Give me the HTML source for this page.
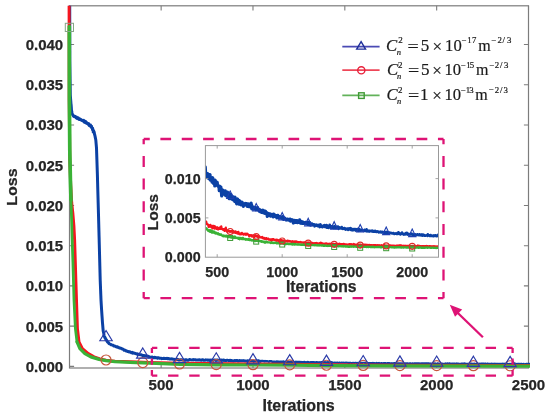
<!DOCTYPE html>
<html><head><meta charset="utf-8"><title>Loss vs Iterations</title>
<style>html,body{margin:0;padding:0;background:#fff;}body{width:550px;height:419px;overflow:hidden;}svg{display:block;filter:blur(0.3px);}</style>
</head><body>
<svg width="550" height="419" viewBox="0 0 550 419"><defs><clipPath id="cm"><rect x="66.5" y="5.8" width="463.5" height="362.2"/></clipPath><clipPath id="ci"><rect x="205.4" y="145.6" width="233.1" height="111.6"/></clipPath></defs>
<rect x="69.5" y="5.8" width="459.0" height="362.2" fill="none" stroke="#7c7c7c" stroke-width="1.2"/>
<path d="M161.14,368.0v-4.6M161.14,5.8v4.6M252.98,368.0v-4.6M252.98,5.8v4.6M344.82,368.0v-4.6M344.82,5.8v4.6M436.66,368.0v-4.6M436.66,5.8v4.6M528.50,368.0v-4.6M528.50,5.8v4.6M69.5,366.40h4.6M528.5,366.40h-4.6M69.5,326.16h4.6M528.5,326.16h-4.6M69.5,285.92h4.6M528.5,285.92h-4.6M69.5,245.68h4.6M528.5,245.68h-4.6M69.5,205.44h4.6M528.5,205.44h-4.6M69.5,165.20h4.6M528.5,165.20h-4.6M69.5,124.96h4.6M528.5,124.96h-4.6M69.5,84.72h4.6M528.5,84.72h-4.6M69.5,44.48h4.6M528.5,44.48h-4.6" stroke="#7c7c7c" stroke-width="1.1" fill="none"/>
<g clip-path="url(#cm)">
<polyline points="69.70,-5.00 69.70,-4.29 69.70,-3.59 69.70,-2.88 69.70,-2.17 69.71,-1.47 69.71,-0.76 69.71,-0.05 69.71,0.65 69.71,1.36 69.71,2.07 69.71,2.77 69.71,3.48 69.71,4.18 69.72,4.89 69.72,5.60 69.72,6.30 69.72,7.01 69.72,7.72 69.72,8.42 69.72,9.13 69.72,9.84 69.72,10.54 69.72,11.25 69.73,11.96 69.73,12.66 69.73,13.37 69.73,14.08 69.73,14.78 69.73,15.49 69.73,16.20 69.73,16.90 69.73,17.61 69.74,18.32 69.74,19.02 69.74,19.73 69.74,20.43 69.74,21.14 69.74,21.85 69.74,22.55 69.74,23.26 69.74,23.97 69.75,24.67 69.75,25.38 69.75,26.09 69.75,26.79 69.75,27.50 69.75,28.21 69.75,28.91 69.75,29.62 69.75,30.33 69.76,31.03 69.76,31.74 69.76,32.45 69.76,33.15 69.76,33.86 69.76,34.57 69.76,35.27 69.76,35.98 69.76,36.68 69.77,37.39 69.77,38.10 69.77,38.80 69.77,39.51 69.77,40.22 69.77,40.92 69.77,41.63 69.77,42.34 69.77,43.04 69.78,43.75 69.78,44.46 69.78,45.16 69.78,45.87 69.78,46.58 69.78,47.28 69.78,47.99 69.78,48.70 69.78,49.40 69.78,50.11 69.79,50.82 69.79,51.52 69.79,52.23 69.79,52.93 69.79,53.64 69.79,54.35 69.79,55.05 69.79,55.76 69.79,56.47 69.80,57.17 69.80,57.88 69.80,58.59 69.80,59.29 69.80,60.00 69.81,60.70 69.82,61.40 69.83,62.10 69.84,62.80 69.85,63.50 69.86,64.20 69.87,64.90 69.88,65.60 69.89,66.30 69.90,67.00 69.91,67.70 69.92,68.40 69.93,69.10 69.94,69.80 69.95,70.50 69.96,71.20 69.97,71.90 69.98,72.60 69.99,73.30 70.00,74.00 70.01,74.70 70.02,75.40 70.03,76.10 70.04,76.80 70.05,77.50 70.06,78.20 70.07,78.90 70.08,79.60 70.09,80.30 70.10,81.00 70.11,81.70 70.12,82.40 70.13,83.10 70.14,83.80 70.15,84.50 70.16,85.20 70.17,85.90 70.18,86.60 70.19,87.30 70.20,88.00 70.21,88.70 70.22,89.40 70.23,90.10 70.24,90.80 70.25,91.50 70.26,92.20 70.27,92.90 70.28,93.60 70.29,94.30 70.30,95.00 70.36,95.75 70.42,96.50 70.47,97.25 70.53,98.00 70.59,98.75 70.65,99.50 70.71,100.25 70.77,101.00 70.83,101.75 70.88,102.50 70.94,103.25 71.00,104.00 71.05,104.75 71.10,105.50 71.15,106.25 71.20,107.00 71.25,107.75 71.30,108.50 71.35,109.25 71.40,110.00 71.56,110.70 71.72,111.40 71.88,112.10 71.72,112.87 71.74,113.82 72.43,114.42 72.96,115.13 73.48,116.05 74.12,116.64 75.26,116.42 75.74,117.27 76.34,118.00 77.04,118.32 78.01,118.12 78.45,118.94 79.08,119.39 79.96,119.39 80.59,119.77 81.40,119.78 81.95,120.35 82.60,120.70 83.59,120.35 83.90,121.37 84.36,122.20 85.14,122.46 85.94,122.68 86.88,122.66 87.29,123.45 88.05,123.81 88.80,124.19 89.07,125.14 90.47,124.95 90.22,126.18 91.53,126.26 91.39,127.41 92.02,127.99 92.71,128.58 92.50,129.62 93.13,130.25 93.35,131.05 93.16,131.85 94.26,132.23 94.15,133.00 94.37,133.67 94.58,134.33 94.80,135.00 94.94,135.71 95.09,136.43 95.23,137.14 95.37,137.86 95.51,138.57 95.66,139.29 95.80,140.00 95.86,140.73 95.93,141.45 95.99,142.18 96.05,142.91 96.12,143.64 96.18,144.36 96.25,145.09 96.31,145.82 96.37,146.55 96.44,147.27 96.50,148.00 96.52,148.71 96.55,149.41 96.57,150.12 96.59,150.82 96.62,151.53 96.64,152.24 96.66,152.94 96.69,153.65 96.71,154.35 96.74,155.06 96.76,155.76 96.78,156.47 96.81,157.18 96.83,157.88 96.85,158.59 96.88,159.29 96.90,160.00 96.92,160.71 96.95,161.43 96.97,162.14 97.00,162.86 97.02,163.57 97.04,164.29 97.07,165.00 97.09,165.71 97.11,166.43 97.14,167.14 97.16,167.86 97.19,168.57 97.21,169.29 97.23,170.00 97.26,170.71 97.28,171.43 97.30,172.14 97.33,172.86 97.35,173.57 97.38,174.29 97.40,175.00 97.42,175.71 97.44,176.43 97.46,177.14 97.48,177.86 97.50,178.57 97.51,179.29 97.53,180.00 97.55,180.71 97.57,181.43 97.59,182.14 97.61,182.86 97.63,183.57 97.65,184.29 97.67,185.00 97.69,185.71 97.70,186.43 97.72,187.14 97.74,187.86 97.76,188.57 97.78,189.29 97.80,190.00 97.82,190.71 97.84,191.43 97.86,192.14 97.88,192.86 97.90,193.57 97.92,194.29 97.94,195.00 97.96,195.71 97.98,196.43 98.00,197.14 98.02,197.86 98.04,198.57 98.06,199.29 98.08,200.00 98.10,200.71 98.12,201.43 98.14,202.14 98.16,202.86 98.18,203.57 98.20,204.29 98.22,205.00 98.24,205.71 98.26,206.43 98.28,207.14 98.30,207.86 98.32,208.57 98.34,209.29 98.36,210.00 98.38,210.71 98.40,211.43 98.42,212.14 98.44,212.86 98.46,213.57 98.48,214.29 98.50,215.00 98.52,215.71 98.54,216.43 98.56,217.14 98.58,217.86 98.60,218.57 98.61,219.29 98.63,220.00 98.65,220.71 98.67,221.43 98.69,222.14 98.71,222.86 98.73,223.57 98.75,224.29 98.77,225.00 98.79,225.71 98.80,226.43 98.82,227.14 98.84,227.86 98.86,228.57 98.88,229.29 98.90,230.00 98.92,230.71 98.94,231.43 98.96,232.14 98.98,232.86 99.00,233.57 99.01,234.29 99.03,235.00 99.05,235.71 99.07,236.43 99.09,237.14 99.11,237.86 99.13,238.57 99.15,239.29 99.17,240.00 99.19,240.71 99.20,241.43 99.22,242.14 99.24,242.86 99.26,243.57 99.28,244.29 99.30,245.00 99.32,245.70 99.34,246.40 99.35,247.10 99.37,247.80 99.39,248.50 99.41,249.20 99.43,249.90 99.44,250.60 99.46,251.30 99.48,252.00 99.50,252.70 99.52,253.40 99.53,254.10 99.55,254.80 99.57,255.50 99.59,256.20 99.61,256.90 99.62,257.60 99.64,258.30 99.66,259.00 99.68,259.70 99.70,260.40 99.71,261.10 99.73,261.80 99.75,262.50 99.77,263.20 99.79,263.90 99.80,264.60 99.82,265.30 99.84,266.00 99.86,266.70 99.88,267.40 99.89,268.10 99.91,268.80 99.93,269.50 99.95,270.20 99.97,270.90 99.98,271.60 100.00,272.30 100.02,273.00 100.04,273.70 100.06,274.40 100.07,275.10 100.09,275.80 100.11,276.50 100.13,277.20 100.15,277.90 100.16,278.60 100.18,279.30 100.20,280.00 100.23,280.71 100.26,281.43 100.29,282.14 100.31,282.86 100.34,283.57 100.37,284.29 100.40,285.00 100.43,285.71 100.46,286.43 100.49,287.14 100.51,287.86 100.54,288.57 100.57,289.29 100.60,290.00 100.63,290.71 100.66,291.43 100.69,292.14 100.71,292.86 100.74,293.57 100.77,294.29 100.80,295.00 100.83,295.71 100.86,296.43 100.89,297.14 100.91,297.86 100.94,298.57 100.97,299.29 101.00,300.00 101.04,300.71 101.09,301.43 101.13,302.14 101.17,302.86 101.21,303.57 101.26,304.29 101.30,305.00 101.34,305.71 101.39,306.43 101.43,307.14 101.47,307.86 101.51,308.57 101.56,309.29 101.60,310.00 101.65,310.72 101.70,311.44 101.75,312.17 101.80,312.89 101.85,313.61 101.90,314.33 101.95,315.06 102.00,315.78 102.05,316.50 102.10,317.22 102.15,317.94 102.20,318.67 102.25,319.39 102.30,320.11 102.35,320.83 102.40,321.56 102.45,322.28 102.50,323.00 102.56,323.73 102.63,324.45 102.69,325.18 102.75,325.91 102.82,326.64 102.88,327.36 102.95,328.09 103.01,328.82 103.07,329.55 103.14,330.27 103.20,331.00 103.37,331.76 103.54,332.51 103.71,333.27 103.89,334.03 103.92,334.82 104.05,335.58 104.23,336.37 104.78,337.01 104.90,337.84 105.64,338.40 105.78,339.22 106.02,339.99 106.74,340.34 107.04,341.05 107.37,341.74 107.85,342.30 108.51,342.65 108.87,343.51 109.63,343.80 110.41,344.06 110.96,344.70 111.65,344.90 112.33,345.12 113.03,345.28 113.54,345.93 114.30,345.94 114.95,346.23 115.74,346.57 116.48,347.01 117.52,346.69 118.17,347.37 118.79,347.75 119.59,347.75 120.20,348.14 120.96,348.21 121.57,348.61 122.18,349.02 122.90,349.14 123.58,349.52 124.14,350.22 124.95,350.27 125.68,350.53 126.29,351.11 127.08,351.08 127.69,351.60 128.47,351.60 129.13,351.96 130.00,351.71 130.58,352.29 131.24,352.63 132.08,352.39 132.66,353.18 133.52,352.84 134.20,353.23 134.99,353.21 135.67,353.61 136.38,353.88 137.24,353.69 137.85,354.48 138.70,354.31 139.45,354.57 140.20,354.80 141.00,354.83 141.77,354.97 142.48,355.41 143.24,355.51 144.03,355.49 144.72,355.96 145.53,355.84 146.33,355.82 147.04,356.15 147.82,356.18 148.55,356.43 149.21,357.00 150.01,356.92 150.72,357.36 151.48,357.34 152.28,356.94 152.96,357.67 153.72,357.73 154.53,357.20 155.22,357.86 156.01,357.61 156.75,357.72 157.46,358.15 158.27,357.72 159.00,358.00 159.72,358.36 160.48,358.30 161.25,358.20 161.98,358.63 162.70,358.57 163.42,358.48 164.16,358.19 164.85,358.60 165.57,358.54 166.30,358.41 167.02,358.36 167.71,358.75 168.44,358.52 169.14,358.79 169.84,359.00 170.56,358.91 171.29,358.83 171.98,359.10 172.71,359.04 173.41,359.36 174.16,359.26 174.86,359.66 175.59,359.70 176.33,359.61 177.10,359.34 177.84,359.32 178.51,359.93 179.25,359.93 180.00,359.89 180.72,359.71 181.43,359.65 182.14,359.95 182.86,359.87 183.57,359.90 184.28,359.94 185.00,360.03 185.72,359.64 186.43,359.69 187.14,360.21 187.85,360.17 188.57,360.15 189.29,359.57 190.00,359.59 190.72,359.75 191.43,359.86 192.14,360.01 192.86,359.65 193.57,359.96 194.29,359.64 195.00,359.66 195.71,360.08 196.43,360.00 197.14,360.06 197.86,359.89 198.57,359.97 199.29,359.79 200.00,359.89 200.73,360.18 201.45,360.26 202.19,359.73 202.91,359.77 203.63,360.26 204.36,360.14 205.09,360.25 205.82,359.87 206.55,360.03 207.27,359.92 208.00,360.32 208.73,360.02 209.45,360.23 210.18,360.47 210.91,360.01 211.64,360.18 212.36,360.33 213.09,360.46 213.82,360.12 214.55,360.09 215.28,359.91 215.99,360.46 216.72,359.92 217.43,359.94 218.13,360.29 218.84,360.25 219.55,360.41 220.26,360.16 220.96,360.51 221.68,360.03 222.39,360.14 223.09,360.47 223.81,360.08 224.52,360.26 225.22,360.57 225.93,360.56 226.65,360.29 227.36,360.21 228.07,360.37 228.77,360.65 229.49,360.41 230.20,360.25 230.90,360.69 231.61,360.60 232.32,360.86 233.03,360.89 233.74,360.89 234.45,360.58 235.16,360.85 235.87,360.51 236.58,360.54 237.29,360.61 237.99,361.00 238.70,360.99 239.42,360.56 240.13,360.65 240.84,360.67 241.55,360.68 242.26,360.72 242.97,360.73 243.68,360.62 244.39,360.89 245.09,361.07 245.81,360.91 246.51,361.13 247.22,360.95 247.94,360.70 248.64,361.12 249.35,361.22 250.07,360.82 250.78,360.66 251.48,361.02 252.19,361.05 252.90,361.09 253.61,361.38 254.32,361.18 255.03,361.30 255.75,360.80 256.45,361.15 257.16,361.34 257.88,360.86 258.59,360.87 259.29,361.35 260.00,361.20" fill="none" stroke="#0B41A5" stroke-width="3.0" stroke-linejoin="round" stroke-linecap="round" />
<polyline points="258.00,361.01 259.00,361.29 260.00,361.31 260.71,361.43 261.43,361.05 262.15,361.10 262.86,361.06 263.58,361.13 264.28,361.45 265.01,361.11 265.71,361.37 266.43,361.20 267.15,361.27 267.86,361.37 268.57,361.63 269.28,361.51 270.01,361.18 270.72,361.35 271.43,361.29 272.14,361.75 272.85,361.73 273.57,361.75 274.28,361.78 275.00,361.75 275.71,361.89 276.42,361.81 277.15,361.51 277.85,361.89 278.57,361.69 279.28,361.87 280.00,361.77 280.72,361.71 281.43,361.69 282.14,361.75 282.86,361.70 283.58,361.60 284.28,362.04 285.00,362.05 285.71,362.18 286.43,362.02 287.14,361.96 287.85,362.09 288.58,361.74 289.28,362.09 290.00,361.97 290.70,361.82 291.41,361.84 292.11,362.05 292.81,361.89 293.51,362.03 294.21,362.13 294.91,362.01 295.62,361.86 296.32,362.09 297.02,361.95 297.72,361.96 298.42,361.94 299.12,362.06 299.83,361.89 300.52,362.25 301.22,362.44 301.93,362.11 302.63,362.32 303.33,362.46 304.04,361.94 304.74,362.01 305.44,362.42 306.14,362.44 306.84,362.34 307.55,362.06 308.25,362.22 308.94,362.51 309.65,362.53 310.35,362.49 311.06,362.14 311.75,362.54 312.46,362.26 313.16,362.48 313.86,362.14 314.56,362.65 315.26,362.44 315.96,362.52 316.67,362.23 317.37,362.48 318.07,362.47 318.77,362.49 319.47,362.36 320.17,362.59 320.88,362.37 321.58,362.35 322.28,362.28 322.98,362.61 323.69,362.27 324.39,362.35 325.09,362.27 325.79,362.62 326.49,362.58 327.19,362.58 327.90,362.29 328.60,362.54 329.30,362.50 330.00,362.36 331.00,362.31 332.00,362.62" fill="none" stroke="#0B41A5" stroke-width="2.5" stroke-linejoin="round" stroke-linecap="round" />
<polyline points="328.00,362.37 329.00,362.69 330.00,362.68 330.70,362.83 331.40,362.50 332.10,362.50 332.80,362.75 333.50,362.71 334.20,362.54 334.90,362.74 335.60,362.60 336.30,362.80 337.00,362.48 337.70,362.54 338.40,362.88 339.10,362.62 339.80,362.58 340.50,362.86 341.20,362.78 341.90,362.54 342.60,362.75 343.30,362.81 344.00,362.57 344.70,362.82 345.40,362.57 346.10,362.68 346.80,362.56 347.50,362.63 348.20,363.02 348.90,362.74 349.60,363.04 350.30,362.77 351.00,362.86 351.70,363.00 352.40,362.92 353.10,362.64 353.80,362.88 354.50,362.91 355.20,362.69 355.90,362.66 356.60,363.05 357.30,362.88 358.00,362.73 358.70,362.86 359.40,362.75 360.10,363.05 360.80,362.91 361.50,362.72 362.20,363.08 362.90,362.72 363.60,362.83 364.30,362.71 365.00,363.07 365.70,362.76 366.40,362.98 367.10,362.77 367.80,362.97 368.50,363.08 369.20,363.01 369.90,362.98 370.60,363.00 371.30,362.98 372.00,363.07 372.70,362.82 373.40,363.02 374.10,362.91 374.80,363.23 375.50,363.27 376.20,362.85 376.90,362.89 377.60,363.18 378.30,363.12 379.00,362.85 379.70,363.20 380.40,363.33 381.10,363.07 381.80,363.04 382.50,363.16 383.20,363.35 383.90,363.02 384.60,363.05 385.30,363.00 386.00,363.22 386.70,363.15 387.40,363.05 388.10,363.12 388.80,362.96 389.50,363.10 390.20,363.44 390.90,363.25 391.60,363.11 392.30,363.44 393.00,363.16 393.70,363.11 394.40,363.01 395.10,363.07 395.80,363.11 396.50,363.13 397.20,363.46 397.90,363.16 398.60,363.16 399.30,363.34 400.00,363.51 400.70,363.20 401.40,363.44 402.10,363.24 402.80,363.34 403.50,363.36 404.20,363.54 404.90,363.45 405.60,363.33 406.30,363.50 407.00,363.26 407.70,363.28 408.40,363.57 409.10,363.36 409.80,363.48 410.50,363.25 411.20,363.56 411.90,363.41 412.60,363.23 413.30,363.57 414.00,363.34 414.70,363.28 415.40,363.25 416.10,363.17 416.80,363.22 417.50,363.47 418.20,363.20 418.90,363.26 419.60,363.36 420.30,363.41 421.00,363.33 421.70,363.54 422.40,363.27 423.10,363.33 423.80,363.36 424.50,363.22 425.20,363.27 425.90,363.23 426.60,363.53 427.30,363.24 428.00,363.50 428.70,363.28 429.40,363.50 430.10,363.51 430.80,363.36 431.50,363.65 432.20,363.52 432.90,363.47 433.60,363.22 434.30,363.40 435.00,363.33 435.70,363.44 436.40,363.67 437.10,363.64 437.80,363.24 438.50,363.56 439.20,363.69 439.90,363.49 440.60,363.27 441.30,363.66 442.00,363.44 442.70,363.72 443.40,363.67 444.10,363.65 444.80,363.71 445.50,363.28 446.20,363.64 446.90,363.40 447.60,363.32 448.30,363.45 449.00,363.55 449.70,363.27 450.40,363.49 451.10,363.66 451.80,363.52 452.50,363.54 453.20,363.43 453.90,363.77 454.60,363.41 455.30,363.63 456.00,363.61 456.70,363.29 457.40,363.79 458.10,363.42 458.80,363.80 459.50,363.77 460.20,363.76 460.90,363.74 461.60,363.51 462.30,363.54 463.00,363.49 463.70,363.79 464.40,363.34 465.10,363.40 465.80,363.81 466.50,363.74 467.20,363.69 467.90,363.82 468.60,363.61 469.30,363.76 470.00,363.57 470.70,363.80 471.41,363.39 472.12,363.58 472.82,363.65 473.53,363.76 474.24,363.58 474.94,363.72 475.65,363.86 476.35,363.59 477.06,363.49 477.77,363.40 478.47,363.82 479.18,363.63 479.88,363.59 480.59,363.66 481.30,363.47 482.00,363.52 482.71,363.53 483.41,363.54 484.12,363.85 484.82,363.55 485.53,363.47 486.23,363.86 486.94,363.71 487.65,363.45 488.35,363.78 489.06,363.79 489.76,363.77 490.47,363.84 491.18,363.67 491.88,363.57 492.59,363.84 493.29,363.78 494.00,363.82 494.71,363.57 495.41,363.66 496.12,363.83 496.82,363.68 497.53,363.79 498.24,363.73 498.94,363.87 499.65,363.67 500.35,363.75 501.06,363.92 501.77,363.66 502.47,363.60 503.18,363.83 503.88,363.59 504.59,363.95 505.29,363.66 506.00,363.98 506.71,363.80 507.41,363.61 508.12,363.80 508.82,363.89 509.53,363.79 510.23,363.87 510.94,363.74 511.65,364.04 512.35,363.65 513.06,363.96 513.77,363.58 514.47,363.83 515.18,363.61 515.88,363.65 516.59,363.88 517.29,364.04 518.00,363.74 518.71,363.79 519.41,363.84 520.12,363.90 520.82,363.78 521.53,363.78 522.23,364.04 522.94,363.89 523.65,363.79 524.35,364.03 525.06,364.12 525.76,363.84 526.47,363.64 527.18,363.79 527.88,364.09 528.59,363.73 529.29,363.75 530.00,363.90" fill="none" stroke="#0B41A5" stroke-width="2.0" stroke-linejoin="round" stroke-linecap="round" />
<polyline points="71.00,104.00 71.07,105.00 71.13,106.00 71.20,107.00 71.27,108.00 71.33,109.00 71.40,110.00 71.67,111.17 71.93,112.33 72.05,113.60 72.86,114.66 73.55,115.95 75.00,115.76 75.69,116.81 76.88,116.96 77.11,118.60 78.67,117.70 78.88,119.36 80.33,118.61 80.86,120.08 82.13,119.98 83.07,120.57 83.69,121.74 85.30,120.95 86.14,121.51 86.25,123.35 87.49,123.21 88.81,123.34 88.60,125.27 89.35,125.78 91.23,125.78 91.44,127.02 92.59,127.71 92.80,128.85 92.80,130.10 94.08,130.81 93.49,132.11 94.15,133.00 94.47,134.00 94.80,135.00" fill="none" stroke="#0B41A5" stroke-width="2.2" stroke-linejoin="round" stroke-linecap="round" />
<polyline points="69.10,-5.00 69.20,100.00 69.80,160.00 70.70,185.00 71.70,203.00 72.90,214.00 73.90,226.00 74.60,240.00 75.30,262.00 75.90,282.00 76.40,298.00 77.40,328.50 79.00,341.90 82.40,348.60 88.30,353.60 94.10,356.90 100.00,359.00 106.00,360.30 115.00,361.20 130.00,361.80 150.00,362.40 180.00,363.20 260.00,364.00 330.00,364.70 400.00,365.20 530.00,365.50" fill="none" stroke="#F5151F" stroke-width="3.0" stroke-linejoin="round" stroke-linecap="round" />
<polyline points="69.30,26.60 69.40,100.00 69.80,150.00 70.40,180.00 71.00,200.00" fill="none" stroke="#3AB236" stroke-width="3.7" stroke-linejoin="round" stroke-linecap="round" />
<polyline points="71.00,200.00 71.60,220.00 72.20,240.00 72.90,262.00 73.50,282.00 74.00,300.00 75.40,328.50 77.00,341.90" fill="none" stroke="#3AB236" stroke-width="2.8" stroke-linejoin="round" stroke-linecap="round" />
<polyline points="77.00,341.90 79.90,348.60 84.90,353.60 90.80,356.90 99.10,359.40 106.00,360.60 115.00,361.60 130.00,362.40 150.00,363.20 180.00,364.30 216.00,364.90 290.00,365.10 330.00,365.60 400.00,365.90 530.00,366.10" fill="none" stroke="#3AB236" stroke-width="3.2" stroke-linejoin="round" stroke-linecap="round" />
</g>
<circle cx="106.04" cy="360.00" r="5.0" fill="none" stroke="#c8563e" stroke-width="1.2"/>
<path d="M106.04,330.50 L112.24,340.70 L99.84,340.70 Z" fill="none" stroke="#2a3aa8" stroke-width="1.15" stroke-linejoin="miter"/>
<circle cx="142.77" cy="362.61" r="5.0" fill="none" stroke="#c8563e" stroke-width="1.2"/>
<path d="M142.77,347.96 L148.97,358.16 L136.57,358.16 Z" fill="none" stroke="#2a3aa8" stroke-width="1.15" stroke-linejoin="miter"/>
<circle cx="179.51" cy="363.98" r="5.0" fill="none" stroke="#c8563e" stroke-width="1.2"/>
<path d="M179.51,352.35 L185.71,362.55 L173.31,362.55 Z" fill="none" stroke="#2a3aa8" stroke-width="1.15" stroke-linejoin="miter"/>
<circle cx="216.24" cy="364.60" r="5.0" fill="none" stroke="#c8563e" stroke-width="1.2"/>
<path d="M216.24,352.81 L222.44,363.01 L210.04,363.01 Z" fill="none" stroke="#2a3aa8" stroke-width="1.15" stroke-linejoin="miter"/>
<circle cx="252.98" cy="364.70" r="5.0" fill="none" stroke="#c8563e" stroke-width="1.2"/>
<path d="M252.98,353.64 L259.18,363.84 L246.78,363.84 Z" fill="none" stroke="#2a3aa8" stroke-width="1.15" stroke-linejoin="miter"/>
<circle cx="289.72" cy="364.80" r="5.0" fill="none" stroke="#c8563e" stroke-width="1.2"/>
<path d="M289.72,354.59 L295.92,364.79 L283.52,364.79 Z" fill="none" stroke="#2a3aa8" stroke-width="1.15" stroke-linejoin="miter"/>
<circle cx="326.45" cy="365.26" r="5.0" fill="none" stroke="#c8563e" stroke-width="1.2"/>
<path d="M326.45,355.15 L332.65,365.35 L320.25,365.35 Z" fill="none" stroke="#2a3aa8" stroke-width="1.15" stroke-linejoin="miter"/>
<circle cx="363.19" cy="365.44" r="5.0" fill="none" stroke="#c8563e" stroke-width="1.2"/>
<path d="M363.19,355.53 L369.39,365.73 L356.99,365.73 Z" fill="none" stroke="#2a3aa8" stroke-width="1.15" stroke-linejoin="miter"/>
<circle cx="399.92" cy="365.60" r="5.0" fill="none" stroke="#c8563e" stroke-width="1.2"/>
<path d="M399.92,355.90 L406.12,366.10 L393.72,366.10 Z" fill="none" stroke="#2a3aa8" stroke-width="1.15" stroke-linejoin="miter"/>
<circle cx="436.66" cy="365.66" r="5.0" fill="none" stroke="#c8563e" stroke-width="1.2"/>
<path d="M436.66,356.06 L442.86,366.26 L430.46,366.26 Z" fill="none" stroke="#2a3aa8" stroke-width="1.15" stroke-linejoin="miter"/>
<circle cx="473.40" cy="365.71" r="5.0" fill="none" stroke="#c8563e" stroke-width="1.2"/>
<path d="M473.40,356.22 L479.60,366.42 L467.20,366.42 Z" fill="none" stroke="#2a3aa8" stroke-width="1.15" stroke-linejoin="miter"/>
<circle cx="510.13" cy="365.77" r="5.0" fill="none" stroke="#c8563e" stroke-width="1.2"/>
<path d="M510.13,356.40 L516.33,366.60 L503.93,366.60 Z" fill="none" stroke="#2a3aa8" stroke-width="1.15" stroke-linejoin="miter"/>
<rect x="65.3" y="23.3" width="8.2" height="8.2" fill="none" stroke="#86a486" stroke-width="1"/>
<g font-family="Liberation Sans, Arial, sans-serif" font-weight="bold" font-size="15" fill="#262626" stroke="#262626" stroke-width="0.25">
<text x="63.2" y="371.90" text-anchor="end">0.000</text>
<text x="63.2" y="331.66" text-anchor="end">0.005</text>
<text x="63.2" y="291.42" text-anchor="end">0.010</text>
<text x="63.2" y="251.18" text-anchor="end">0.015</text>
<text x="63.2" y="210.94" text-anchor="end">0.020</text>
<text x="63.2" y="170.70" text-anchor="end">0.025</text>
<text x="63.2" y="130.46" text-anchor="end">0.030</text>
<text x="63.2" y="90.22" text-anchor="end">0.035</text>
<text x="63.2" y="49.98" text-anchor="end">0.040</text>
<text x="161.14" y="389.7" text-anchor="middle">500</text>
<text x="252.98" y="389.7" text-anchor="middle">1000</text>
<text x="344.82" y="389.7" text-anchor="middle">1500</text>
<text x="436.66" y="389.7" text-anchor="middle">2000</text>
<text x="528.50" y="389.7" text-anchor="middle">2500</text>
</g>
<text x="298.6" y="410.7" text-anchor="middle" font-family="Liberation Sans, Arial, sans-serif" font-weight="bold" font-size="16" fill="#262626" stroke="#262626" stroke-width="0.25">Iterations</text>
<text transform="translate(17.2,187) rotate(-90) scale(1,0.95)" text-anchor="middle" font-family="Liberation Sans, Arial, sans-serif" font-weight="bold" font-size="16" fill="#262626" stroke="#262626" stroke-width="0.25">Loss</text>
<line x1="342.3" y1="46.6" x2="379.6" y2="46.6" stroke="#4a4ab4" stroke-width="1.7"/>
<path d="M361.1,41.7 L365.5,49.1 L356.70000000000005,49.1 Z" fill="none" stroke="#1f2f9a" stroke-width="1.4"/>
<text x="386.00" y="50.70" font-size="16.8" font-style="italic" font-family="Liberation Serif, Times New Roman, serif" fill="#1a1a1a" stroke="#1a1a1a" stroke-width="0.2" >C</text>
<text x="398.20" y="43.40" font-size="9" font-family="Liberation Serif, Times New Roman, serif" fill="#1a1a1a" stroke="#1a1a1a" stroke-width="0.2" >2</text>
<text x="396.70" y="54.60" font-size="8.5" font-style="italic" font-family="Liberation Serif, Times New Roman, serif" fill="#1a1a1a" stroke="#1a1a1a" stroke-width="0.2" >n</text>
<text transform="translate(407.46,51.70) scale(1.17,1)" font-size="17" font-family="Liberation Serif, Times New Roman, serif" fill="#1a1a1a" stroke="#1a1a1a" stroke-width="0.2" >=</text>
<text x="420.80" y="50.70" font-size="17" font-family="Liberation Serif, Times New Roman, serif" fill="#1a1a1a" stroke="#1a1a1a" stroke-width="0.2" >5</text>
<text x="432.40" y="51.80" font-size="17" font-family="Liberation Serif, Times New Roman, serif" fill="#1a1a1a" stroke="#1a1a1a" stroke-width="0.2" >×</text>
<text x="445.10" y="50.70" font-size="16.6" font-family="Liberation Serif, Times New Roman, serif" fill="#1a1a1a" stroke="#1a1a1a" stroke-width="0.2" >10</text>
<text x="478.20" y="50.70" font-size="16" font-family="Liberation Serif, Times New Roman, serif" fill="#1a1a1a" stroke="#1a1a1a" stroke-width="0.2" >m</text>
<text x="461.80" y="43.00" font-size="8.8" font-family="Liberation Serif, Times New Roman, serif" fill="#1a1a1a" stroke="#1a1a1a" stroke-width="0.2" >−</text>
<text x="467.20" y="42.90" font-size="8.8" font-family="Liberation Serif, Times New Roman, serif" fill="#1a1a1a" stroke="#1a1a1a" stroke-width="0.2" >1</text>
<text x="472.00" y="42.90" font-size="8.8" font-family="Liberation Serif, Times New Roman, serif" fill="#1a1a1a" stroke="#1a1a1a" stroke-width="0.2" >7</text>
<text x="491.50" y="43.20" font-size="8.8" font-family="Liberation Serif, Times New Roman, serif" fill="#1a1a1a" stroke="#1a1a1a" stroke-width="0.2" >−</text>
<text x="497.50" y="43.30" font-size="8.8" font-family="Liberation Serif, Times New Roman, serif" fill="#1a1a1a" stroke="#1a1a1a" stroke-width="0.2" >2</text>
<text x="502.40" y="43.30" font-size="8.8" font-family="Liberation Serif, Times New Roman, serif" fill="#1a1a1a" stroke="#1a1a1a" stroke-width="0.2" >/</text>
<text x="506.90" y="43.30" font-size="8.8" font-family="Liberation Serif, Times New Roman, serif" fill="#1a1a1a" stroke="#1a1a1a" stroke-width="0.2" >3</text>
<line x1="342.3" y1="70.2" x2="379.6" y2="70.2" stroke="#ee4658" stroke-width="1.7"/>
<circle cx="361.3" cy="70.3" r="3.6" fill="none" stroke="#e8203a" stroke-width="1.4"/>
<text x="387.10" y="75.30" font-size="16.8" font-style="italic" font-family="Liberation Serif, Times New Roman, serif" fill="#1a1a1a" stroke="#1a1a1a" stroke-width="0.2" >C</text>
<text x="398.10" y="68.40" font-size="9" font-family="Liberation Serif, Times New Roman, serif" fill="#1a1a1a" stroke="#1a1a1a" stroke-width="0.2" >2</text>
<text x="397.10" y="79.40" font-size="8.5" font-style="italic" font-family="Liberation Serif, Times New Roman, serif" fill="#1a1a1a" stroke="#1a1a1a" stroke-width="0.2" >n</text>
<text transform="translate(407.96,76.30) scale(1.17,1)" font-size="17" font-family="Liberation Serif, Times New Roman, serif" fill="#1a1a1a" stroke="#1a1a1a" stroke-width="0.2" >=</text>
<text x="421.00" y="75.30" font-size="17" font-family="Liberation Serif, Times New Roman, serif" fill="#1a1a1a" stroke="#1a1a1a" stroke-width="0.2" >5</text>
<text x="432.20" y="76.40" font-size="17" font-family="Liberation Serif, Times New Roman, serif" fill="#1a1a1a" stroke="#1a1a1a" stroke-width="0.2" >×</text>
<text x="444.40" y="75.30" font-size="16.6" font-family="Liberation Serif, Times New Roman, serif" fill="#1a1a1a" stroke="#1a1a1a" stroke-width="0.2" >10</text>
<text x="476.10" y="75.30" font-size="16" font-family="Liberation Serif, Times New Roman, serif" fill="#1a1a1a" stroke="#1a1a1a" stroke-width="0.2" >m</text>
<text x="461.00" y="67.60" font-size="8.8" font-family="Liberation Serif, Times New Roman, serif" fill="#1a1a1a" stroke="#1a1a1a" stroke-width="0.2" >−</text>
<text x="466.20" y="68.10" font-size="8.8" font-family="Liberation Serif, Times New Roman, serif" fill="#1a1a1a" stroke="#1a1a1a" stroke-width="0.2" >1</text>
<text x="469.70" y="68.10" font-size="8.8" font-family="Liberation Serif, Times New Roman, serif" fill="#1a1a1a" stroke="#1a1a1a" stroke-width="0.2" >5</text>
<text x="489.50" y="67.60" font-size="8.8" font-family="Liberation Serif, Times New Roman, serif" fill="#1a1a1a" stroke="#1a1a1a" stroke-width="0.2" >−</text>
<text x="494.70" y="68.10" font-size="8.8" font-family="Liberation Serif, Times New Roman, serif" fill="#1a1a1a" stroke="#1a1a1a" stroke-width="0.2" >2</text>
<text x="499.90" y="68.10" font-size="8.8" font-family="Liberation Serif, Times New Roman, serif" fill="#1a1a1a" stroke="#1a1a1a" stroke-width="0.2" >/</text>
<text x="503.90" y="68.10" font-size="8.8" font-family="Liberation Serif, Times New Roman, serif" fill="#1a1a1a" stroke="#1a1a1a" stroke-width="0.2" >3</text>
<line x1="342.3" y1="95.4" x2="379.6" y2="95.4" stroke="#62b25a" stroke-width="1.7"/>
<rect x="358.6" y="92.80000000000001" width="5.6" height="5.6" fill="none" stroke="#3f9a35" stroke-width="1.4"/>
<text x="386.60" y="99.90" font-size="16.8" font-style="italic" font-family="Liberation Serif, Times New Roman, serif" fill="#1a1a1a" stroke="#1a1a1a" stroke-width="0.2" >C</text>
<text x="398.10" y="93.10" font-size="9" font-family="Liberation Serif, Times New Roman, serif" fill="#1a1a1a" stroke="#1a1a1a" stroke-width="0.2" >2</text>
<text x="396.90" y="104.00" font-size="8.5" font-style="italic" font-family="Liberation Serif, Times New Roman, serif" fill="#1a1a1a" stroke="#1a1a1a" stroke-width="0.2" >n</text>
<text transform="translate(407.96,100.90) scale(1.17,1)" font-size="17" font-family="Liberation Serif, Times New Roman, serif" fill="#1a1a1a" stroke="#1a1a1a" stroke-width="0.2" >=</text>
<text x="420.00" y="99.90" font-size="17" font-family="Liberation Serif, Times New Roman, serif" fill="#1a1a1a" stroke="#1a1a1a" stroke-width="0.2" >1</text>
<text x="432.20" y="101.00" font-size="17" font-family="Liberation Serif, Times New Roman, serif" fill="#1a1a1a" stroke="#1a1a1a" stroke-width="0.2" >×</text>
<text x="444.40" y="99.90" font-size="16.6" font-family="Liberation Serif, Times New Roman, serif" fill="#1a1a1a" stroke="#1a1a1a" stroke-width="0.2" >10</text>
<text x="475.30" y="99.90" font-size="16" font-family="Liberation Serif, Times New Roman, serif" fill="#1a1a1a" stroke="#1a1a1a" stroke-width="0.2" >m</text>
<text x="461.00" y="92.50" font-size="8.8" font-family="Liberation Serif, Times New Roman, serif" fill="#1a1a1a" stroke="#1a1a1a" stroke-width="0.2" >−</text>
<text x="465.80" y="92.60" font-size="8.8" font-family="Liberation Serif, Times New Roman, serif" fill="#1a1a1a" stroke="#1a1a1a" stroke-width="0.2" >1</text>
<text x="469.20" y="92.60" font-size="8.8" font-family="Liberation Serif, Times New Roman, serif" fill="#1a1a1a" stroke="#1a1a1a" stroke-width="0.2" >3</text>
<text x="489.00" y="92.20" font-size="8.8" font-family="Liberation Serif, Times New Roman, serif" fill="#1a1a1a" stroke="#1a1a1a" stroke-width="0.2" >−</text>
<text x="494.70" y="92.60" font-size="8.8" font-family="Liberation Serif, Times New Roman, serif" fill="#1a1a1a" stroke="#1a1a1a" stroke-width="0.2" >2</text>
<text x="500.00" y="92.60" font-size="8.8" font-family="Liberation Serif, Times New Roman, serif" fill="#1a1a1a" stroke="#1a1a1a" stroke-width="0.2" >/</text>
<text x="503.40" y="92.60" font-size="8.8" font-family="Liberation Serif, Times New Roman, serif" fill="#1a1a1a" stroke="#1a1a1a" stroke-width="0.2" >3</text>
<path d="M143.70,139.00H149.75M160.40,139.00H171.10M181.75,139.00H192.45M203.10,139.00H213.80M224.45,139.00H235.15M245.80,139.00H256.50M267.15,139.00H277.85M288.50,139.00H299.20M309.85,139.00H320.55M331.20,139.00H341.90M352.55,139.00H363.25M373.90,139.00H384.60M395.25,139.00H405.95M416.60,139.00H427.30M437.95,139.00H443.50M143.70,298.20H149.75M160.40,298.20H171.10M181.75,298.20H192.45M203.10,298.20H213.80M224.45,298.20H235.15M245.80,298.20H256.50M267.15,298.20H277.85M288.50,298.20H299.20M309.85,298.20H320.55M331.20,298.20H341.90M352.55,298.20H363.25M373.90,298.20H384.60M395.25,298.20H405.95M416.60,298.20H427.30M437.95,298.20H443.50M143.70,139.00V144.20M143.70,155.90V166.90M143.70,178.60V189.60M143.70,201.30V212.30M143.70,224.00V235.00M143.70,246.70V257.70M143.70,269.40V280.40M143.70,292.10V298.20M443.50,139.00V144.20M443.50,155.90V166.90M443.50,178.60V189.60M443.50,201.30V212.30M443.50,224.00V235.00M443.50,246.70V257.70M443.50,269.40V280.40M443.50,292.10V298.20M151.90,347.90H157.30M168.07,347.90H178.47M189.24,347.90H199.64M210.41,347.90H220.81M231.58,347.90H241.98M252.75,347.90H263.15M273.92,347.90H284.32M295.09,347.90H305.49M316.26,347.90H326.66M337.43,347.90H347.83M358.60,347.90H369.00M379.77,347.90H390.17M400.94,347.90H411.34M422.11,347.90H432.51M443.28,347.90H453.68M464.45,347.90H474.85M485.62,347.90H496.02M506.79,347.90H512.60M151.90,375.70H157.30M168.07,375.70H178.47M189.24,375.70H199.64M210.41,375.70H220.81M231.58,375.70H241.98M252.75,375.70H263.15M273.92,375.70H284.32M295.09,375.70H305.49M316.26,375.70H326.66M337.43,375.70H347.83M358.60,375.70H369.00M379.77,375.70H390.17M400.94,375.70H411.34M422.11,375.70H432.51M443.28,375.70H453.68M464.45,375.70H474.85M485.62,375.70H496.02M506.79,375.70H512.60M151.9,347.9V353.09999999999997M151.9,358.6V364.8M151.9,370.09999999999997V375.7M512.6,347.9V353.09999999999997M512.6,358.6V364.8M512.6,370.09999999999997V375.7" stroke="#DE1375" stroke-width="2.3" fill="none" stroke-linecap="butt"/>
<line x1="482.9" y1="337.3" x2="455" y2="310.2" stroke="#DE1375" stroke-width="2.3"/>
<path d="M449.8,304.8 L462.2,309.6 L455.0,316.8 Z" fill="#DE1375"/>
<rect x="205.4" y="145.6" width="233.1" height="111.6" fill="#fff"/>
<g clip-path="url(#ci)">
<polyline points="205.50,222.73 205.85,223.46 206.20,221.64 206.55,223.28 206.90,224.02 207.25,224.26 207.60,224.34 207.95,224.47 208.30,225.01 208.65,226.87 209.00,226.21 209.35,225.48 209.70,225.69 210.05,226.58 210.40,224.94 210.75,226.46 211.10,226.45 211.45,227.39 211.80,227.19 212.15,225.80 212.50,228.47 212.85,226.83 213.20,226.77 213.55,225.82 213.90,227.77 214.25,226.22 214.60,228.52 214.95,226.42 215.30,228.13 215.65,227.77 216.00,228.20 216.35,228.70 216.70,227.34 217.05,228.60 217.40,227.35 217.75,228.10 218.10,229.43 218.45,228.70 218.80,228.12 219.15,228.85 219.50,228.79 219.85,227.86 220.20,227.26 220.55,228.78 220.90,228.91 221.25,226.49 221.60,228.49 221.95,228.99 222.30,228.93 222.65,229.24 223.00,229.12 223.35,230.10 223.70,229.11 224.05,229.28 224.40,230.25 224.75,230.73 225.10,230.38 225.45,228.94 225.80,227.55 226.15,230.03 226.50,230.22 226.85,231.58 227.20,230.77 227.55,231.03 227.90,230.37 228.25,230.35 228.60,231.26 228.95,231.29 229.30,231.00 229.65,231.57 230.00,231.82 230.35,231.13 230.70,231.22 231.05,231.52 231.40,230.88 231.75,231.57 232.10,231.05 232.45,231.09 232.80,232.69 233.15,232.08 233.50,231.15 233.85,232.49 234.20,232.37 234.55,232.30 234.90,232.22 235.25,232.71 235.60,231.48 235.95,232.16 236.30,233.14 236.65,232.37 237.00,232.95 237.35,232.15 237.70,233.54 238.05,233.45 238.40,231.97 238.75,233.27 239.10,234.01 239.45,233.45 239.80,234.02 240.15,234.37 240.50,233.94 240.85,234.05 241.20,233.24 241.55,234.20 241.90,232.98 242.25,233.70 242.60,234.20 242.95,234.06 243.30,234.01 243.65,234.55 244.00,234.05 244.35,234.44 244.70,234.43 245.05,233.61 245.40,234.46 245.75,234.06 246.10,234.79 246.45,234.57 246.80,233.75 247.15,234.16 247.50,233.77 247.85,234.37 248.20,234.67 248.55,234.90 248.90,235.36 249.25,236.43 249.60,235.22 249.95,235.10 250.30,235.05 250.65,235.40 251.00,235.35 251.35,235.22 251.70,236.40 252.05,235.36 252.40,235.40 252.75,235.68 253.10,236.63 253.45,235.85 253.80,235.49 254.15,236.00 254.50,236.85 254.85,235.80 255.20,235.22 255.55,235.37 255.90,236.05 256.25,236.03 256.60,236.37 256.95,236.61 257.30,235.99 257.65,236.79 258.00,236.43 258.35,236.98 258.70,237.32 259.05,236.26 259.40,236.52 259.75,236.95 260.10,237.44 260.45,237.28 260.80,237.45 261.15,237.46 261.50,237.59 261.85,237.14 262.20,236.98 262.55,237.71 262.90,238.09 263.25,238.43 263.60,237.88 263.95,238.19 264.30,237.91 264.65,238.92 265.00,238.57 265.35,238.41 265.70,238.99 266.05,238.14 266.40,238.75 266.75,239.00 267.10,238.61 267.45,238.60 267.80,239.06 268.15,238.58 268.50,238.74 268.85,239.24 269.20,239.70 269.55,239.37 269.90,239.67 270.25,239.55 270.60,239.43 270.95,240.12 271.30,240.73 271.65,239.42 272.00,239.16 272.35,239.84 272.70,239.32 273.05,239.74 273.40,239.12 273.75,239.55 274.10,239.78 274.45,239.80 274.80,240.05 275.15,239.83 275.50,239.81 275.85,240.47 276.20,239.92 276.55,239.63 276.90,240.76 277.25,239.72 277.60,240.22 277.95,240.47 278.30,240.72 278.65,240.48 279.00,240.19 279.35,240.39 279.70,240.98 280.05,240.42 280.40,241.15 280.75,240.17 281.10,240.83 281.45,240.28 281.80,241.30 282.15,240.36 282.50,240.59 282.85,240.85 283.20,241.42 283.55,240.46 283.90,240.76 284.25,240.99 284.60,240.94 284.95,240.95 285.30,241.39 285.65,241.08 286.00,241.13 286.35,241.31 286.70,240.95 287.05,241.05 287.40,241.45 287.75,240.63 288.10,241.53 288.45,240.92 288.80,241.28 289.15,241.47 289.50,241.37 289.85,241.07 290.20,241.58 290.55,241.44 290.90,241.38 291.25,241.81 291.60,241.84 291.95,241.59 292.30,241.26 292.65,241.92 293.00,241.53 293.35,242.68 293.70,241.67 294.05,241.37 294.40,242.11 294.75,241.68 295.10,241.69 295.45,241.36 295.80,241.85 296.15,241.82 296.50,241.46 296.85,241.71 297.20,242.43 297.55,242.02 297.90,242.30 298.25,242.13 298.60,242.56 298.95,242.26 299.30,242.09 299.65,242.38 300.00,242.31 300.35,242.29 300.70,242.04 301.05,242.56 301.40,242.38 301.75,242.56 302.10,242.69 302.45,242.64 302.80,242.35 303.15,242.55 303.50,242.80 303.85,242.73 304.20,242.41 304.55,242.57 304.90,242.46 305.25,242.17 305.60,242.60 305.95,242.66 306.30,243.00 306.65,242.73 307.00,242.58 307.35,242.92 307.70,242.53 308.05,242.60 308.40,242.86 308.75,243.19 309.10,242.48 309.45,243.20 309.80,242.93 310.15,243.04 310.50,242.73 310.85,242.87 311.20,243.25 311.55,242.97 311.90,243.25 312.25,242.95 312.60,243.23 312.95,243.24 313.30,243.19 313.65,243.37 314.00,243.58 314.35,243.34 314.70,243.16 315.05,243.06 315.40,243.47 315.75,243.18 316.10,243.25 316.45,243.29 316.80,243.07 317.15,243.52 317.50,243.38 317.85,243.71 318.20,243.47 318.55,243.74 318.90,244.21 319.25,243.57 319.60,243.18 319.95,243.38 320.30,243.62 320.65,242.78 321.00,243.38 321.35,243.57 321.70,242.92 322.05,243.52 322.40,243.99 322.75,243.54 323.10,243.59 323.45,243.70 323.80,243.79 324.15,243.92 324.50,243.72 324.85,244.02 325.20,243.78 325.55,243.65 325.90,243.45 326.25,243.40 326.60,243.50 326.95,243.74 327.30,243.96 327.65,243.89 328.00,243.95 328.35,243.90 328.70,243.92 329.05,244.06 329.40,244.08 329.75,243.77 330.10,243.87 330.45,244.00 330.80,244.18 331.15,243.74 331.50,243.93 331.85,243.81 332.20,243.85 332.55,244.33 332.90,243.97 333.25,243.85 333.60,243.97 333.95,243.94 334.30,244.14 334.65,244.44 335.00,244.22 335.35,243.93 335.70,243.84 336.05,244.05 336.40,244.05 336.75,244.10 337.10,244.11 337.45,244.00 337.80,244.05 338.15,244.19 338.50,244.22 338.85,243.95 339.20,244.13 339.55,243.63 339.90,244.33 340.25,244.13 340.60,244.42 340.95,244.20 341.30,244.56 341.65,244.19 342.00,244.29 342.35,244.18 342.70,244.59 343.05,244.28 343.40,244.03 343.75,244.63 344.10,243.94 344.45,244.44 344.80,244.50 345.15,244.57 345.50,244.44 345.85,244.54 346.20,244.56 346.55,244.52 346.90,244.39 347.25,244.66 347.60,244.73 347.95,244.59 348.30,244.47 348.65,244.43 349.00,244.44 349.35,244.35 349.70,244.73 350.05,244.23 350.40,244.14 350.75,244.41 351.10,244.77 351.45,244.17 351.80,244.55 352.15,244.28 352.50,244.29 352.85,244.79 353.20,244.92 353.55,244.69 353.90,243.93 354.25,244.87 354.60,244.79 354.95,244.65 355.30,244.80 355.65,244.67 356.00,244.86 356.35,244.60 356.70,244.62 357.05,244.74 357.40,244.79 357.75,245.39 358.10,244.60 358.45,244.69 358.80,244.96 359.15,244.63 359.50,244.88 359.85,244.67 360.20,244.62 360.55,245.02 360.90,244.75 361.25,244.87 361.60,244.95 361.95,244.88 362.30,244.76 362.65,244.82 363.00,244.63 363.35,244.88 363.70,244.95 364.05,244.75 364.40,245.19 364.75,244.91 365.10,245.08 365.45,244.95 365.80,244.63 366.15,245.04 366.50,245.04 366.85,244.96 367.20,244.84 367.55,244.98 367.90,245.12 368.25,245.04 368.60,245.03 368.95,245.01 369.30,244.81 369.65,245.14 370.00,245.08 370.35,245.06 370.70,245.08 371.05,245.32 371.40,245.20 371.75,245.11 372.10,245.23 372.45,245.37 372.80,245.33 373.15,245.20 373.50,245.11 373.85,245.20 374.20,245.22 374.55,245.25 374.90,245.60 375.25,245.09 375.60,245.04 375.95,245.39 376.30,245.27 376.65,245.56 377.00,245.39 377.35,245.52 377.70,245.14 378.05,245.31 378.40,245.32 378.75,245.61 379.10,245.27 379.45,245.53 379.80,245.54 380.15,245.71 380.50,245.56 380.85,245.49 381.20,245.58 381.55,245.16 381.90,245.44 382.25,245.56 382.60,245.66 382.95,245.61 383.30,245.47 383.65,245.43 384.00,244.91 384.35,245.44 384.70,245.61 385.05,245.82 385.40,245.66 385.75,245.50 386.10,245.70 386.45,245.70 386.80,245.74 387.15,245.78 387.50,245.75 387.85,245.63 388.20,245.60 388.55,245.69 388.90,245.61 389.25,245.43 389.60,245.98 389.95,245.68 390.30,245.91 390.65,245.56 391.00,245.79 391.35,245.64 391.70,245.67 392.05,245.53 392.40,245.68 392.75,245.81 393.10,245.66 393.45,245.68 393.80,245.73 394.15,245.77 394.50,245.74 394.85,245.83 395.20,246.08 395.55,245.94 395.90,245.83 396.25,245.61 396.60,245.71 396.95,245.81 397.30,245.67 397.65,245.55 398.00,245.82 398.35,245.67 398.70,245.89 399.05,245.55 399.40,245.90 399.75,245.93 400.10,245.33 400.45,245.79 400.80,245.97 401.15,245.75 401.50,245.56 401.85,246.03 402.20,246.03 402.55,245.94 402.90,245.93 403.25,245.89 403.60,245.76 403.95,245.90 404.30,246.09 404.65,245.80 405.00,245.93 405.35,246.20 405.70,245.88 406.05,246.01 406.40,245.83 406.75,246.23 407.10,246.21 407.45,245.96 407.80,245.88 408.15,246.06 408.50,245.92 408.85,245.79 409.20,245.85 409.55,245.73 409.90,245.87 410.25,246.02 410.60,246.33 410.95,246.07 411.30,246.14 411.65,246.24 412.00,246.25 412.35,246.01 412.70,245.89 413.05,246.09 413.40,246.12 413.75,246.22 414.10,246.33 414.45,245.96 414.80,246.12 415.15,246.12 415.50,246.12 415.85,245.89 416.20,246.33 416.55,246.44 416.90,246.27 417.25,246.15 417.60,246.29 417.95,245.51 418.30,246.33 418.65,246.04 419.00,246.21 419.35,245.85 419.70,246.02 420.05,246.09 420.40,246.40 420.75,246.10 421.10,246.09 421.45,246.05 421.80,246.36 422.15,246.35 422.50,246.12 422.85,246.10 423.20,246.55 423.55,246.27 423.90,246.08 424.25,246.35 424.60,246.18 424.95,246.42 425.30,246.19 425.65,246.32 426.00,246.36 426.35,246.54 426.70,246.04 427.05,246.18 427.40,246.29 427.75,246.18 428.10,246.25 428.45,246.41 428.80,246.40 429.15,246.41 429.50,246.25 429.85,246.32 430.20,246.19 430.55,246.27 430.90,246.32 431.25,246.33 431.60,246.37 431.95,246.24 432.30,246.51 432.65,246.52 433.00,246.31 433.35,246.48 433.70,246.24 434.05,246.63 434.40,246.32 434.75,246.57 435.10,246.47 435.45,246.59 435.80,246.28 436.15,246.34 436.50,246.71 436.85,246.56 437.20,246.66 437.55,246.42 437.90,246.41 438.25,246.41 438.60,246.72 438.95,246.71" fill="none" stroke="#F5151F" stroke-width="2.3" stroke-linejoin="round" stroke-linecap="round" />
<polyline points="205.50,229.31 205.85,228.03 206.20,229.33 206.55,228.44 206.90,229.05 207.25,229.42 207.60,229.53 207.95,230.45 208.30,231.03 208.65,230.28 209.00,230.78 209.35,230.83 209.70,230.09 210.05,231.90 210.40,231.26 210.75,231.52 211.10,230.36 211.45,231.57 211.80,232.58 212.15,231.36 212.50,232.14 212.85,231.25 213.20,232.59 213.55,232.33 213.90,231.90 214.25,232.78 214.60,231.78 214.95,232.85 215.30,233.42 215.65,232.76 216.00,233.10 216.35,232.75 216.70,233.33 217.05,233.26 217.40,234.01 217.75,233.55 218.10,233.30 218.45,233.98 218.80,233.99 219.15,234.52 219.50,234.20 219.85,234.32 220.20,234.80 220.55,234.47 220.90,234.52 221.25,234.51 221.60,235.33 221.95,235.33 222.30,235.30 222.65,236.05 223.00,235.66 223.35,235.42 223.70,236.37 224.05,236.05 224.40,235.93 224.75,235.73 225.10,236.04 225.45,236.46 225.80,236.19 226.15,236.02 226.50,235.61 226.85,235.76 227.20,236.74 227.55,236.47 227.90,237.03 228.25,236.17 228.60,236.37 228.95,236.79 229.30,237.16 229.65,237.13 230.00,236.59 230.35,236.78 230.70,237.33 231.05,237.02 231.40,237.64 231.75,237.26 232.10,237.48 232.45,237.36 232.80,236.54 233.15,237.37 233.50,237.52 233.85,237.93 234.20,237.12 234.55,237.18 234.90,236.43 235.25,237.96 235.60,237.65 235.95,237.85 236.30,237.92 236.65,237.81 237.00,237.61 237.35,238.21 237.70,238.15 238.05,237.95 238.40,238.71 238.75,238.36 239.10,237.69 239.45,238.04 239.80,239.21 240.15,238.62 240.50,238.28 240.85,237.89 241.20,238.52 241.55,238.78 241.90,239.02 242.25,238.26 242.60,238.17 242.95,237.77 243.30,239.05 243.65,238.92 244.00,238.73 244.35,238.93 244.70,238.98 245.05,239.25 245.40,239.46 245.75,238.89 246.10,239.74 246.45,239.41 246.80,239.10 247.15,239.43 247.50,239.43 247.85,239.88 248.20,239.80 248.55,238.96 248.90,239.70 249.25,240.04 249.60,239.46 249.95,239.20 250.30,240.06 250.65,240.04 251.00,239.84 251.35,240.03 251.70,240.43 252.05,240.04 252.40,240.16 252.75,240.57 253.10,240.07 253.45,240.23 253.80,240.30 254.15,240.21 254.50,240.36 254.85,241.01 255.20,239.88 255.55,241.02 255.90,240.75 256.25,240.85 256.60,240.80 256.95,240.61 257.30,240.43 257.65,241.06 258.00,240.30 258.35,241.04 258.70,240.74 259.05,240.66 259.40,240.89 259.75,240.95 260.10,241.15 260.45,241.20 260.80,241.55 261.15,241.08 261.50,241.76 261.85,241.29 262.20,241.56 262.55,241.45 262.90,241.71 263.25,242.01 263.60,241.72 263.95,241.60 264.30,241.77 264.65,242.14 265.00,242.77 265.35,241.91 265.70,242.27 266.05,242.16 266.40,241.61 266.75,242.25 267.10,242.02 267.45,242.09 267.80,242.46 268.15,242.33 268.50,242.37 268.85,242.36 269.20,242.42 269.55,242.42 269.90,242.65 270.25,242.62 270.60,242.74 270.95,243.00 271.30,242.57 271.65,242.40 272.00,242.68 272.35,242.96 272.70,242.64 273.05,242.63 273.40,242.93 273.75,243.17 274.10,242.82 274.45,242.94 274.80,242.73 275.15,242.90 275.50,242.85 275.85,242.72 276.20,242.96 276.55,243.25 276.90,243.29 277.25,242.99 277.60,243.33 277.95,243.20 278.30,243.42 278.65,243.11 279.00,243.34 279.35,243.42 279.70,243.16 280.05,243.31 280.40,243.34 280.75,243.74 281.10,243.43 281.45,243.31 281.80,243.43 282.15,243.26 282.50,243.28 282.85,243.53 283.20,243.46 283.55,243.65 283.90,244.03 284.25,243.91 284.60,243.78 284.95,243.70 285.30,243.96 285.65,244.38 286.00,243.87 286.35,243.63 286.70,243.91 287.05,243.97 287.40,243.94 287.75,243.98 288.10,243.90 288.45,244.09 288.80,243.81 289.15,243.85 289.50,244.08 289.85,244.04 290.20,244.04 290.55,243.95 290.90,243.90 291.25,244.35 291.60,244.29 291.95,244.12 292.30,244.01 292.65,244.48 293.00,243.80 293.35,244.08 293.70,244.05 294.05,244.30 294.40,244.66 294.75,244.66 295.10,244.14 295.45,243.98 295.80,244.36 296.15,244.35 296.50,244.44 296.85,244.50 297.20,244.68 297.55,244.41 297.90,244.49 298.25,244.69 298.60,244.46 298.95,244.54 299.30,244.65 299.65,244.39 300.00,244.73 300.35,244.77 300.70,244.72 301.05,244.72 301.40,244.49 301.75,244.83 302.10,244.64 302.45,244.50 302.80,244.95 303.15,244.91 303.50,244.64 303.85,244.85 304.20,244.53 304.55,244.96 304.90,244.66 305.25,244.83 305.60,244.86 305.95,245.09 306.30,245.05 306.65,244.91 307.00,244.68 307.35,244.78 307.70,244.85 308.05,244.75 308.40,245.07 308.75,244.68 309.10,244.99 309.45,245.05 309.80,245.15 310.15,245.35 310.50,244.89 310.85,245.06 311.20,245.01 311.55,244.94 311.90,244.94 312.25,245.17 312.60,245.06 312.95,245.05 313.30,245.22 313.65,245.09 314.00,245.01 314.35,245.29 314.70,245.22 315.05,244.97 315.40,245.08 315.75,245.27 316.10,245.31 316.45,245.42 316.80,245.16 317.15,245.23 317.50,245.37 317.85,245.23 318.20,245.50 318.55,245.19 318.90,245.42 319.25,245.26 319.60,245.43 319.95,245.52 320.30,245.39 320.65,245.29 321.00,245.45 321.35,245.43 321.70,245.59 322.05,245.64 322.40,245.22 322.75,245.34 323.10,245.63 323.45,245.23 323.80,245.87 324.15,245.49 324.50,245.72 324.85,245.46 325.20,245.62 325.55,245.72 325.90,245.77 326.25,245.80 326.60,245.80 326.95,245.65 327.30,245.71 327.65,245.81 328.00,246.01 328.35,245.92 328.70,245.71 329.05,245.62 329.40,245.61 329.75,245.78 330.10,245.74 330.45,245.60 330.80,245.76 331.15,245.86 331.50,245.67 331.85,245.83 332.20,246.03 332.55,246.01 332.90,245.85 333.25,245.96 333.60,245.64 333.95,246.01 334.30,246.14 334.65,245.90 335.00,245.78 335.35,246.27 335.70,246.16 336.05,245.94 336.40,245.49 336.75,246.29 337.10,245.90 337.45,246.05 337.80,246.13 338.15,246.05 338.50,246.39 338.85,246.10 339.20,246.20 339.55,246.16 339.90,246.30 340.25,246.13 340.60,246.18 340.95,246.21 341.30,246.39 341.65,246.27 342.00,246.25 342.35,246.26 342.70,246.07 343.05,246.49 343.40,246.21 343.75,246.38 344.10,246.22 344.45,246.36 344.80,246.45 345.15,246.22 345.50,246.51 345.85,246.52 346.20,246.63 346.55,246.44 346.90,246.34 347.25,246.54 347.60,246.55 347.95,246.73 348.30,246.51 348.65,246.52 349.00,246.72 349.35,246.55 349.70,246.59 350.05,246.81 350.40,246.42 350.75,246.66 351.10,246.34 351.45,246.70 351.80,246.35 352.15,246.63 352.50,246.70 352.85,246.63 353.20,246.37 353.55,246.75 353.90,246.50 354.25,246.53 354.60,246.71 354.95,246.57 355.30,246.61 355.65,246.59 356.00,246.75 356.35,246.58 356.70,246.56 357.05,246.82 357.40,246.63 357.75,246.56 358.10,246.68 358.45,246.76 358.80,246.58 359.15,246.63 359.50,246.73 359.85,246.81 360.20,246.89 360.55,246.71 360.90,246.93 361.25,246.82 361.60,246.72 361.95,246.92 362.30,246.93 362.65,246.68 363.00,246.76 363.35,246.77 363.70,246.65 364.05,246.75 364.40,246.68 364.75,246.84 365.10,246.93 365.45,246.85 365.80,246.85 366.15,246.78 366.50,246.98 366.85,246.76 367.20,246.77 367.55,246.97 367.90,246.96 368.25,247.09 368.60,246.75 368.95,246.77 369.30,246.92 369.65,246.92 370.00,246.96 370.35,247.01 370.70,247.20 371.05,246.97 371.40,246.90 371.75,246.97 372.10,247.05 372.45,246.74 372.80,247.04 373.15,247.01 373.50,247.04 373.85,246.86 374.20,247.26 374.55,247.05 374.90,247.13 375.25,247.14 375.60,247.13 375.95,247.06 376.30,247.06 376.65,247.21 377.00,246.91 377.35,246.87 377.70,247.12 378.05,247.08 378.40,246.81 378.75,247.07 379.10,247.00 379.45,247.02 379.80,247.15 380.15,247.25 380.50,246.99 380.85,246.97 381.20,247.25 381.55,247.27 381.90,247.03 382.25,247.15 382.60,247.20 382.95,247.14 383.30,247.02 383.65,247.35 384.00,246.94 384.35,247.07 384.70,247.32 385.05,247.12 385.40,247.16 385.75,247.24 386.10,247.05 386.45,247.30 386.80,247.36 387.15,247.14 387.50,247.38 387.85,247.17 388.20,247.14 388.55,247.31 388.90,247.22 389.25,247.38 389.60,247.34 389.95,247.08 390.30,247.11 390.65,247.12 391.00,247.17 391.35,247.26 391.70,247.33 392.05,247.32 392.40,247.09 392.75,247.20 393.10,247.24 393.45,247.36 393.80,247.49 394.15,247.20 394.50,247.37 394.85,247.64 395.20,247.33 395.55,247.33 395.90,247.45 396.25,247.15 396.60,247.45 396.95,247.15 397.30,247.42 397.65,247.30 398.00,247.41 398.35,247.25 398.70,247.27 399.05,247.25 399.40,247.19 399.75,247.44 400.10,247.36 400.45,247.48 400.80,247.54 401.15,247.23 401.50,247.32 401.85,247.63 402.20,247.40 402.55,247.47 402.90,247.43 403.25,247.50 403.60,247.35 403.95,247.52 404.30,247.36 404.65,247.46 405.00,247.39 405.35,247.43 405.70,247.43 406.05,247.50 406.40,247.48 406.75,247.38 407.10,247.56 407.45,247.35 407.80,247.27 408.15,247.22 408.50,247.58 408.85,247.50 409.20,247.44 409.55,247.22 409.90,247.40 410.25,247.50 410.60,247.47 410.95,247.62 411.30,247.65 411.65,247.50 412.00,247.37 412.35,247.51 412.70,247.69 413.05,247.47 413.40,247.64 413.75,247.57 414.10,247.56 414.45,247.69 414.80,247.37 415.15,247.60 415.50,247.43 415.85,247.73 416.20,247.29 416.55,247.49 416.90,247.60 417.25,247.63 417.60,247.66 417.95,247.57 418.30,247.70 418.65,247.09 419.00,247.72 419.35,247.47 419.70,247.57 420.05,247.67 420.40,247.50 420.75,247.44 421.10,247.85 421.45,247.60 421.80,247.57 422.15,247.78 422.50,247.75 422.85,247.76 423.20,247.55 423.55,247.63 423.90,247.81 424.25,247.74 424.60,247.59 424.95,247.83 425.30,247.74 425.65,247.67 426.00,247.57 426.35,247.53 426.70,247.41 427.05,247.42 427.40,247.78 427.75,247.75 428.10,247.63 428.45,247.64 428.80,247.62 429.15,247.70 429.50,247.62 429.85,247.60 430.20,247.68 430.55,247.76 430.90,247.71 431.25,247.72 431.60,247.79 431.95,247.78 432.30,247.73 432.65,247.65 433.00,247.77 433.35,247.77 433.70,247.55 434.05,247.55 434.40,247.86 434.75,247.97 435.10,247.91 435.45,247.85 435.80,247.74 436.15,247.96 436.50,247.71 436.85,247.95 437.20,247.79 437.55,247.79 437.90,247.91 438.25,247.78 438.60,247.96 438.95,247.55" fill="none" stroke="#3AB236" stroke-width="2.3" stroke-linejoin="round" stroke-linecap="round" />
<polyline points="205.20,166.96 205.50,171.77 205.80,177.58 206.10,172.83 206.40,176.53 206.70,175.54 207.00,175.25 207.30,175.41 207.60,173.71 207.90,176.31 208.20,177.07 208.50,174.99 208.80,178.68 209.10,176.29 209.40,177.10 209.70,174.62 210.00,174.87 210.30,179.98 210.60,179.73 210.90,180.13 211.20,178.64 211.50,178.92 211.80,178.93 212.10,182.15 212.40,179.27 212.70,177.79 213.00,180.91 213.30,180.84 213.60,183.60 213.90,181.12 214.20,183.52 214.50,181.10 214.80,185.92 215.10,180.13 215.40,182.99 215.70,184.47 216.00,184.62 216.30,184.29 216.60,184.64 216.90,183.90 217.20,182.29 217.50,185.61 217.80,185.79 218.10,186.17 218.40,186.03 218.70,186.44 219.00,185.86 219.30,190.69 219.60,186.19 219.90,188.58 220.20,186.63 220.50,188.04 220.80,187.02 221.10,190.28 221.40,191.31 221.70,195.96 222.00,189.70 222.30,191.76 222.60,190.01 222.90,190.21 223.20,190.57 223.50,191.03 223.80,192.28 224.10,192.23 224.40,192.06 224.70,194.63 225.00,193.33 225.30,190.85 225.60,195.49 225.90,195.25 226.20,195.01 226.50,195.29 226.80,193.44 227.10,196.27 227.40,192.21 227.70,193.08 228.00,196.32 228.30,192.55 228.60,195.84 228.90,197.31 229.20,198.64 229.50,196.76 229.80,194.06 230.10,195.35 230.40,198.15 230.70,197.74 231.00,194.68 231.30,196.97 231.60,197.05 231.90,199.16 232.20,198.26 232.50,199.33 232.80,196.68 233.10,198.31 233.40,199.89 233.70,199.04 234.00,200.39 234.30,198.78 234.60,201.26 234.90,197.04 235.20,201.69 235.50,200.27 235.80,200.90 236.10,199.34 236.40,201.32 236.70,203.93 237.00,201.16 237.30,200.57 237.60,199.03 237.90,200.68 238.20,203.07 238.50,203.18 238.80,201.37 239.10,204.21 239.40,200.63 239.70,202.36 240.00,202.43 240.30,204.11 240.60,201.87 240.90,204.74 241.20,203.44 241.50,203.38 241.80,203.14 242.10,202.29 242.40,204.60 242.70,204.22 243.00,203.57 243.30,206.29 243.60,205.78 243.90,204.23 244.20,205.42 244.50,204.72 244.80,204.32 245.10,204.40 245.40,203.52 245.70,203.60 246.00,204.78 246.30,205.16 246.60,203.62 246.90,204.30 247.20,206.27 247.50,205.65 247.80,205.96 248.10,205.34 248.40,205.60 248.70,204.01 249.00,206.71 249.30,206.69 249.60,206.02 249.90,205.28 250.20,205.25 250.50,206.40 250.80,207.12 251.10,203.12 251.40,208.22 251.70,205.10 252.00,208.85 252.30,207.75 252.60,208.75 252.90,208.62 253.20,207.23 253.50,208.98 253.80,208.33 254.10,208.80 254.40,207.59 254.70,208.96 255.00,208.21 255.30,208.86 255.60,207.50 255.90,209.72 256.20,209.11 256.50,207.83 256.80,208.11 257.10,207.94 257.40,209.55 257.70,207.74 258.00,209.72 258.30,209.40 258.60,209.42 258.90,209.81 259.20,211.03 259.50,210.23 259.80,211.27 260.10,209.77 260.40,211.79 260.70,211.07 261.00,210.56 261.30,211.76 261.60,212.28 261.90,211.36 262.20,212.34 262.50,210.30 262.80,211.47 263.10,210.26 263.40,212.94 263.70,211.91 264.00,212.01 264.30,211.16 264.60,212.54 264.90,213.17 265.20,212.29 265.50,211.31 265.80,213.47 266.10,212.58 266.40,213.55 266.70,213.54 267.00,212.81 267.30,216.32 267.60,213.45 267.90,214.01 268.20,213.48 268.50,214.03 268.80,214.86 269.10,214.60 269.40,214.31 269.70,215.39 270.00,213.95 270.30,215.27 270.60,216.10 270.90,214.36 271.20,214.43 271.50,215.91 271.80,214.90 272.10,215.26 272.40,215.33 272.70,214.39 273.00,214.41 273.30,216.94 273.60,214.22 273.90,215.29 274.20,215.46 274.50,216.43 274.80,216.46 275.10,215.18 275.40,215.48 275.70,216.15 276.00,216.51 276.30,216.86 276.60,216.54 276.90,217.88 277.20,217.58 277.50,216.64 277.80,215.39 278.10,217.08 278.40,216.73 278.70,216.35 279.00,216.97 279.30,216.46 279.60,217.79 279.90,217.45 280.20,217.82 280.50,216.78 280.80,218.16 281.10,217.28 281.40,217.17 281.70,218.17 282.00,218.49 282.30,217.73 282.60,217.75 282.90,216.79 283.20,218.64 283.50,219.27 283.80,218.47 284.10,218.92 284.40,218.67 284.70,218.19 285.00,219.03 285.30,218.68 285.60,219.29 285.90,219.55 286.20,219.92 286.50,219.22 286.80,219.74 287.10,219.28 287.40,219.19 287.70,219.10 288.00,219.68 288.30,219.55 288.60,219.63 288.90,219.86 289.20,219.81 289.50,220.33 289.80,220.42 290.10,219.07 290.40,221.13 290.70,220.58 291.00,220.83 291.30,220.30 291.60,220.10 291.90,220.38 292.20,219.83 292.50,220.67 292.80,220.71 293.10,220.16 293.40,222.98 293.70,220.68 294.00,221.38 294.30,221.56 294.60,221.31 294.90,220.51 295.20,221.01 295.50,220.73 295.80,222.33 296.10,220.63 296.40,221.59 296.70,221.97 297.00,220.61 297.30,220.98 297.60,222.67 297.90,221.36 298.20,221.67 298.50,221.83 298.80,221.87 299.10,222.21 299.40,221.88 299.70,219.99 300.00,222.48 300.30,222.93" fill="none" stroke="#0B41A5" stroke-width="3.3" stroke-linejoin="round" stroke-linecap="round" />
<polyline points="300.00,222.48 300.30,222.93 300.60,222.36 300.90,221.86 301.20,222.15 301.50,222.04 301.80,221.47 302.10,223.53 302.40,221.98 302.70,222.74 303.00,221.93 303.30,223.54 303.60,223.47 303.90,222.82 304.20,222.52 304.50,223.39 304.80,223.52 305.10,222.67 305.40,222.89 305.70,222.17 306.00,223.48 306.30,222.48 306.60,223.34 306.90,223.24 307.20,224.45 307.50,224.06 307.80,224.40 308.10,221.96 308.40,224.23 308.70,223.96 309.00,224.78 309.30,224.52 309.60,224.63 309.90,222.39 310.20,224.55 310.50,225.36 310.80,224.77 311.10,224.16 311.40,223.72 311.70,224.67 312.00,223.69 312.30,223.99 312.60,224.65 312.90,224.97 313.20,224.65 313.50,224.57 313.80,224.69 314.10,224.39 314.40,224.62 314.70,226.16 315.00,225.10 315.30,225.14 315.60,224.96 315.90,225.48 316.20,225.05 316.50,224.83 316.80,224.94 317.10,225.34 317.40,225.48 317.70,226.04 318.00,225.53 318.30,225.23 318.60,225.58 318.90,225.10 319.20,225.50 319.50,226.02 319.80,226.94 320.10,224.96 320.40,224.41 320.70,226.25 321.00,225.83 321.30,226.03 321.60,226.22 321.90,226.66 322.20,226.41 322.50,226.98 322.80,226.64 323.10,225.91 323.40,226.39 323.70,225.88 324.00,225.50 324.30,225.43 324.60,225.26 324.90,226.67 325.20,226.38 325.50,226.55 325.80,226.86 326.10,225.78 326.40,227.21 326.70,225.12 327.00,227.44 327.30,226.51 327.60,226.23 327.90,227.13 328.20,226.51 328.50,227.75 328.80,226.94 329.10,226.28 329.40,226.03 329.70,224.99 330.00,226.38 330.30,225.94 330.60,227.44 330.90,227.55 331.20,227.26 331.50,226.47 331.80,227.71 332.10,227.13 332.40,226.40 332.70,227.25 333.00,226.75 333.30,226.88 333.60,227.49 333.90,227.87 334.20,226.89 334.50,227.52 334.80,226.29 335.10,227.69 335.40,226.90 335.70,227.35 336.00,228.02 336.30,227.21 336.60,227.00 336.90,227.38 337.20,227.76 337.50,227.50 337.80,226.67 338.10,227.59 338.40,228.06 338.70,228.71 339.00,227.97 339.30,227.46 339.60,228.22 339.90,227.74 340.20,228.14 340.50,228.20 340.80,228.02 341.10,228.31 341.40,228.01 341.70,227.22 342.00,228.48 342.30,228.16 342.60,228.12 342.90,228.72 343.20,228.56 343.50,228.37 343.80,228.54 344.10,228.19 344.40,228.23 344.70,228.22 345.00,228.57 345.30,228.73 345.60,229.47 345.90,228.88 346.20,228.92 346.50,228.88 346.80,228.81 347.10,228.86 347.40,228.86 347.70,228.66 348.00,229.73 348.30,228.79 348.60,229.32 348.90,228.73 349.20,229.31 349.50,229.00 349.80,228.54 350.10,228.81 350.40,228.25 350.70,228.90 351.00,229.86 351.30,228.79 351.60,229.30 351.90,228.97 352.20,230.15 352.50,229.64 352.80,229.34 353.10,229.36 353.40,229.99 353.70,229.34 354.00,229.85 354.30,229.72 354.60,229.17 354.90,229.28 355.20,229.36 355.50,229.92 355.80,230.35 356.10,229.29 356.40,229.98 356.70,229.63 357.00,229.67 357.30,229.36 357.60,230.22 357.90,229.71 358.20,230.69 358.50,229.00 358.80,229.78 359.10,229.82 359.40,229.98 359.70,229.84 360.00,230.40 360.30,230.00" fill="none" stroke="#0B41A5" stroke-width="2.9" stroke-linejoin="round" stroke-linecap="round" />
<polyline points="360.00,230.40 360.30,230.00 360.60,230.40 360.90,229.82 361.20,229.91 361.50,230.43 361.80,229.78 362.10,230.65 362.40,230.43 362.70,230.51 363.00,230.42 363.30,230.48 363.60,230.87 363.90,230.50 364.20,230.38 364.50,229.72 364.80,229.93 365.10,230.75 365.40,230.23 365.70,230.91 366.00,230.90 366.30,231.34 366.60,229.25 366.90,230.78 367.20,230.91 367.50,231.32 367.80,230.71 368.10,231.15 368.40,230.97 368.70,230.80 369.00,230.59 369.30,231.65 369.60,230.87 369.90,230.89 370.20,231.25 370.50,230.89 370.80,231.23 371.10,231.11 371.40,230.88 371.70,231.18 372.00,231.54 372.30,230.60 372.60,231.05 372.90,231.68 373.20,231.03 373.50,231.22 373.80,231.10 374.10,231.80 374.40,230.94 374.70,231.19 375.00,231.40 375.30,230.81 375.60,231.74 375.90,231.43 376.20,232.06 376.50,231.49 376.80,231.73 377.10,231.41 377.40,231.52 377.70,231.25 378.00,231.89 378.30,232.18 378.60,232.50 378.90,231.80 379.20,232.07 379.50,232.19 379.80,232.16 380.10,231.72 380.40,231.58 380.70,232.01 381.00,232.03 381.30,232.52 381.60,232.13 381.90,232.25 382.20,231.88 382.50,232.51 382.80,231.94 383.10,232.39 383.40,232.68 383.70,232.67 384.00,232.30 384.30,232.79 384.60,232.36 384.90,232.38 385.20,232.90 385.50,232.69 385.80,232.33 386.10,231.85 386.40,232.56 386.70,232.44 387.00,233.22 387.30,232.51 387.60,232.19 387.90,232.58 388.20,232.96 388.50,233.13 388.80,232.80 389.10,232.58 389.40,232.46 389.70,232.98 390.00,232.63 390.30,232.87 390.60,232.94 390.90,232.82 391.20,232.88 391.50,233.01 391.80,232.98 392.10,233.39 392.40,233.17 392.70,233.44 393.00,233.04 393.30,233.36 393.60,233.17 393.90,233.88 394.20,233.28 394.50,233.58 394.80,233.89 395.10,233.80 395.40,233.69 395.70,233.35 396.00,233.47 396.30,233.51 396.60,233.97 396.90,234.05 397.20,233.07 397.50,233.33 397.80,233.46 398.10,233.84 398.40,232.28 398.70,233.68 399.00,233.97 399.30,233.18 399.60,233.12 399.90,233.49 400.20,234.27 400.50,234.52 400.80,233.75 401.10,233.59 401.40,233.64 401.70,233.70 402.00,232.49 402.30,233.75 402.60,233.78 402.90,233.49 403.20,234.24 403.50,234.56 403.80,233.95 404.10,234.03 404.40,234.20 404.70,233.77 405.00,234.52 405.30,234.13 405.60,233.86 405.90,233.00 406.20,234.03 406.50,234.27 406.80,233.76 407.10,232.91 407.40,234.32 407.70,234.66 408.00,234.64 408.30,234.29 408.60,233.92 408.90,234.11 409.20,233.98 409.50,234.54 409.80,234.62 410.10,234.38 410.40,234.23 410.70,234.47 411.00,234.64 411.30,234.61 411.60,233.53 411.90,234.52 412.20,234.55 412.50,234.63 412.80,234.81 413.10,234.29 413.40,234.51 413.70,235.10 414.00,235.10 414.30,235.06 414.60,234.29 414.90,235.11 415.20,235.22 415.50,235.53 415.80,234.39 416.10,234.78 416.40,235.27 416.70,235.11 417.00,234.57 417.30,235.00 417.60,234.41 417.90,234.96 418.20,234.96 418.50,235.09 418.80,234.45 419.10,235.24 419.40,234.36 419.70,234.25 420.00,234.79 420.30,235.23 420.60,234.70 420.90,235.17 421.20,234.62 421.50,235.53 421.80,234.53 422.10,235.58 422.40,235.59 422.70,235.69 423.00,234.61 423.30,235.53 423.60,234.80 423.90,235.27 424.20,235.12 424.50,235.27 424.80,235.70 425.10,235.34 425.40,235.81 425.70,235.67 426.00,235.44 426.30,235.45 426.60,235.19 426.90,235.32 427.20,235.67 427.50,235.84 427.80,234.15 428.10,235.15 428.40,235.23 428.70,235.39 429.00,235.57 429.30,235.82 429.60,235.24 429.90,236.00 430.20,235.64 430.50,234.93 430.80,236.06 431.10,235.60 431.40,235.77 431.70,235.84 432.00,235.48 432.30,235.88 432.60,235.81 432.90,236.13 433.20,235.70 433.50,236.13 433.80,235.92 434.10,235.39 434.40,235.68 434.70,235.89 435.00,235.66 435.30,235.23 435.60,235.82 435.90,235.38 436.20,235.66 436.50,236.28 436.80,235.97 437.10,235.45 437.40,235.85 437.70,235.91 438.00,234.80 438.30,235.96 438.60,235.87 438.90,236.63" fill="none" stroke="#0B41A5" stroke-width="2.5" stroke-linejoin="round" stroke-linecap="round" />
<rect x="227.70" y="235.46" width="5" height="5" fill="none" stroke="#3d9a35" stroke-width="1"/>
<circle cx="230.20" cy="231.53" r="3.0" fill="none" stroke="#e02a2a" stroke-width="1.1"/>
<path d="M230.20,190.94 L233.80,198.54 L226.60,198.54 Z" fill="none" stroke="#1f3fb0" stroke-width="1.1"/>
<rect x="253.70" y="239.12" width="5" height="5" fill="none" stroke="#3d9a35" stroke-width="1"/>
<circle cx="256.20" cy="236.58" r="3.0" fill="none" stroke="#e02a2a" stroke-width="1.1"/>
<path d="M256.20,203.46 L259.80,211.06 L252.60,211.06 Z" fill="none" stroke="#1f3fb0" stroke-width="1.1"/>
<rect x="279.70" y="242.04" width="5" height="5" fill="none" stroke="#3d9a35" stroke-width="1"/>
<circle cx="282.20" cy="241.01" r="3.0" fill="none" stroke="#e02a2a" stroke-width="1.1"/>
<path d="M282.20,212.44 L285.80,220.04 L278.60,220.04 Z" fill="none" stroke="#1f3fb0" stroke-width="1.1"/>
<rect x="305.70" y="243.43" width="5" height="5" fill="none" stroke="#3d9a35" stroke-width="1"/>
<circle cx="308.20" cy="243.13" r="3.0" fill="none" stroke="#e02a2a" stroke-width="1.1"/>
<path d="M308.20,218.34 L311.80,225.94 L304.60,225.94 Z" fill="none" stroke="#1f3fb0" stroke-width="1.1"/>
<rect x="331.70" y="244.47" width="5" height="5" fill="none" stroke="#3d9a35" stroke-width="1"/>
<circle cx="334.20" cy="244.33" r="3.0" fill="none" stroke="#e02a2a" stroke-width="1.1"/>
<path d="M334.20,221.65 L337.80,229.25 L330.60,229.25 Z" fill="none" stroke="#1f3fb0" stroke-width="1.1"/>
<rect x="357.70" y="245.27" width="5" height="5" fill="none" stroke="#3d9a35" stroke-width="1"/>
<circle cx="360.20" cy="245.11" r="3.0" fill="none" stroke="#e02a2a" stroke-width="1.1"/>
<path d="M360.20,224.43 L363.80,232.03 L356.60,232.03 Z" fill="none" stroke="#1f3fb0" stroke-width="1.1"/>
<rect x="383.70" y="245.70" width="5" height="5" fill="none" stroke="#3d9a35" stroke-width="1"/>
<circle cx="386.20" cy="245.90" r="3.0" fill="none" stroke="#e02a2a" stroke-width="1.1"/>
<path d="M386.20,227.07 L389.80,234.67 L382.60,234.67 Z" fill="none" stroke="#1f3fb0" stroke-width="1.1"/>
<rect x="409.70" y="246.00" width="5" height="5" fill="none" stroke="#3d9a35" stroke-width="1"/>
<circle cx="412.20" cy="246.34" r="3.0" fill="none" stroke="#e02a2a" stroke-width="1.1"/>
<path d="M412.20,229.01 L415.80,236.61 L408.60,236.61 Z" fill="none" stroke="#1f3fb0" stroke-width="1.1"/>
</g>
<rect x="205.4" y="145.6" width="233.1" height="111.6" fill="none" stroke="#999" stroke-width="1.0"/>
<path d="M217.20,257.2v-3.0M217.20,145.6v3.0M282.20,257.2v-3.0M282.20,145.6v3.0M347.20,257.2v-3.0M347.20,145.6v3.0M412.20,257.2v-3.0M412.20,145.6v3.0M205.4,217.90h3.0M438.5,217.90h-3.0M205.4,178.60h3.0M438.5,178.60h-3.0" stroke="#999" stroke-width="0.9" fill="none"/>
<g font-family="Liberation Sans, Arial, sans-serif" font-weight="bold" font-size="14.3" fill="#262626" stroke="#262626" stroke-width="0.25">
<text x="200.6" y="262.20" text-anchor="end">0.000</text>
<text x="200.6" y="222.90" text-anchor="end">0.005</text>
<text x="200.6" y="183.60" text-anchor="end">0.010</text>
<text x="217.20" y="277.3" text-anchor="middle">500</text>
<text x="282.20" y="277.3" text-anchor="middle">1000</text>
<text x="347.20" y="277.3" text-anchor="middle">1500</text>
<text x="412.20" y="277.3" text-anchor="middle">2000</text>
</g>
<text x="321.2" y="292.3" text-anchor="middle" font-family="Liberation Sans, Arial, sans-serif" font-weight="bold" font-size="15.7" fill="#262626" stroke="#262626" stroke-width="0.25">Iterations</text>
<text transform="translate(158.4,212.2) rotate(-90) scale(1,0.93)" text-anchor="middle" font-family="Liberation Sans, Arial, sans-serif" font-weight="bold" font-size="15.6" fill="#262626" stroke="#262626" stroke-width="0.25">Loss</text></svg>
</body></html>
